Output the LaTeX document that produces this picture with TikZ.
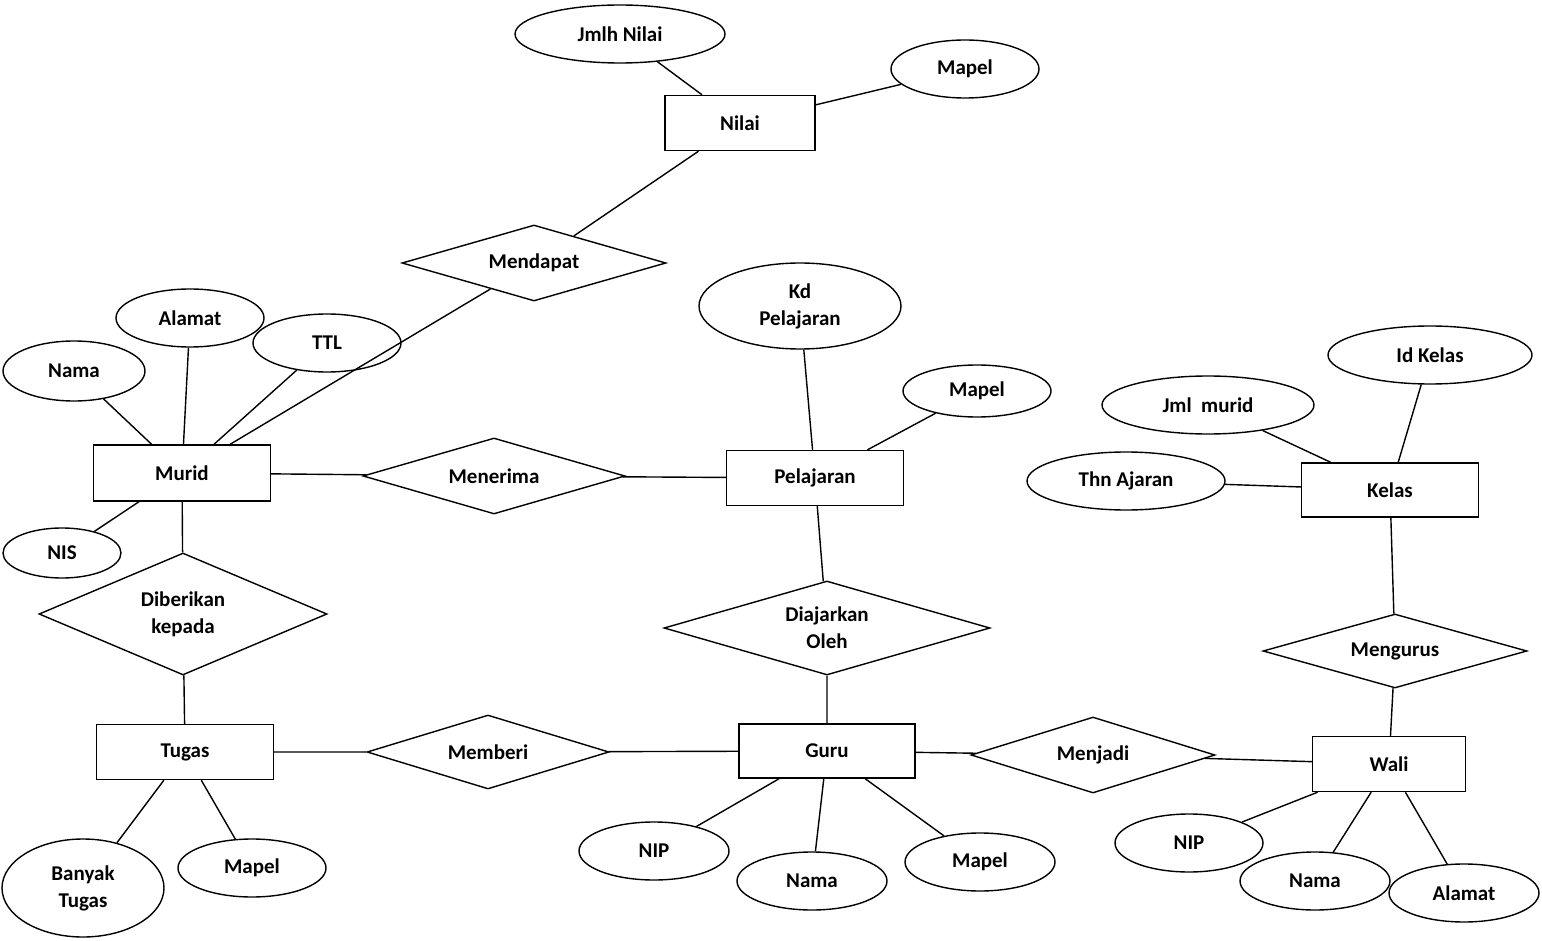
\documentclass[tikz,border=0pt]{standalone}
\usepackage{fontspec}
\setmainfont{Carlito}
\usetikzlibrary{shapes.geometric}
\begin{document}
\begin{tikzpicture}[x=0.5pt,y=-0.5pt,line width=0.7pt,
  every node/.style={font=\bfseries\fontsize{10.5}{13.5}\selectfont,align=center,inner sep=0pt},
  ent/.style={draw,rectangle},
  att/.style={draw,ellipse},
  rel/.style={draw,diamond,inner sep=-10pt}]
\useasboundingbox (0,0) rectangle (1542,941);
\def\e#1#2#3#4#5#6{\node[#1,minimum width=#4*0.5pt,minimum height=#5*0.5pt] (#6) at (#2,#3)}
\e{att}{620}{34}{210}{58}{jn}{Jmlh Nilai};
\e{att}{965}{69}{148}{58}{mp1}{Mapel};
\e{ent}{740}{123}{150}{55}{nilai}{Nilai};
\e{rel}{534}{263}{264}{76}{mendapat}{Mendapat};
\e{att}{190}{318}{148}{58}{alamat}{Alamat};
\e{att}{327}{343}{148}{58}{ttl}{TTL};
\e{att}{74}{371}{142}{60}{nama}{Nama};
\e{ent}{182}{473}{177}{56}{murid}{Murid};
\e{att}{62}{553}{118}{50}{nis}{NIS};
\e{rel}{494}{476}{262}{76}{menerima}{Menerima};
\e{att}{800}{306}{202}{86}{kd}{Kd\\Pelajaran};
\e{att}{977}{391}{148}{52}{mp2}{Mapel};
\e{ent}{815}{478}{177}{55}{pel}{Pelajaran};
\e{att}{1430}{355}{204}{58}{idk}{Id Kelas};
\e{att}{1208}{405}{212}{58}{jml}{Jml~ murid};
\e{att}{1126}{481}{198}{58}{thn}{Thn Ajaran};
\e{ent}{1390}{490}{177}{54}{kelas}{Kelas};
\e{rel}{183}{614}{288}{122}{dib}{Diberikan\\kepada};
\e{rel}{827}{628}{326}{94}{dia}{Diajarkan\\Oleh};
\e{rel}{1395}{651}{264}{74}{mengurus}{Mengurus};
\e{ent}{185}{752}{177}{55}{tugas}{Tugas};
\e{rel}{488}{752}{242}{74}{memberi}{Memberi};
\e{ent}{827}{751}{176}{54}{guru}{Guru};
\e{rel}{1093}{755}{244}{76}{menjadi}{Menjadi};
\e{ent}{1389}{764}{153}{55}{wali}{Wali};
\e{att}{83}{888}{162}{98}{bt}{Banyak\\Tugas};
\e{att}{252}{868}{148}{58}{mpt}{Mapel};
\e{att}{654}{851}{150}{58}{nipg}{NIP};
\e{att}{812}{881}{150}{58}{namag}{Nama};
\e{att}{980}{862}{150}{58}{mpg}{Mapel};
\e{att}{1189}{843}{148}{58}{nipw}{NIP};
\e{att}{1315}{881}{150}{58}{namaw}{Nama};
\e{att}{1464}{893}{150}{58}{alw}{Alamat};
\draw (jn)--(nilai) (mp1)--(nilai) (nilai)--(mendapat) (mendapat)--(murid);
\draw (alamat)--(murid) (ttl)--(murid) (nama)--(murid) (nis)--(murid);
\draw (murid)--(menerima)--(pel) (kd)--(pel) (mp2)--(pel);
\draw (pel)--(dia)--(guru) (murid)--(dib)--(tugas);
\draw (tugas)--(memberi)--(guru)--(menjadi)--(wali);
\draw (kelas)--(mengurus)--(wali) (idk)--(kelas) (jml)--(kelas) (thn)--(kelas);
\draw (tugas)--(bt) (tugas)--(mpt);
\draw (guru)--(nipg) (guru)--(namag) (guru)--(mpg);
\draw (wali)--(nipw) (wali)--(namaw) (wali)--(alw);
\end{tikzpicture}
\end{document}
